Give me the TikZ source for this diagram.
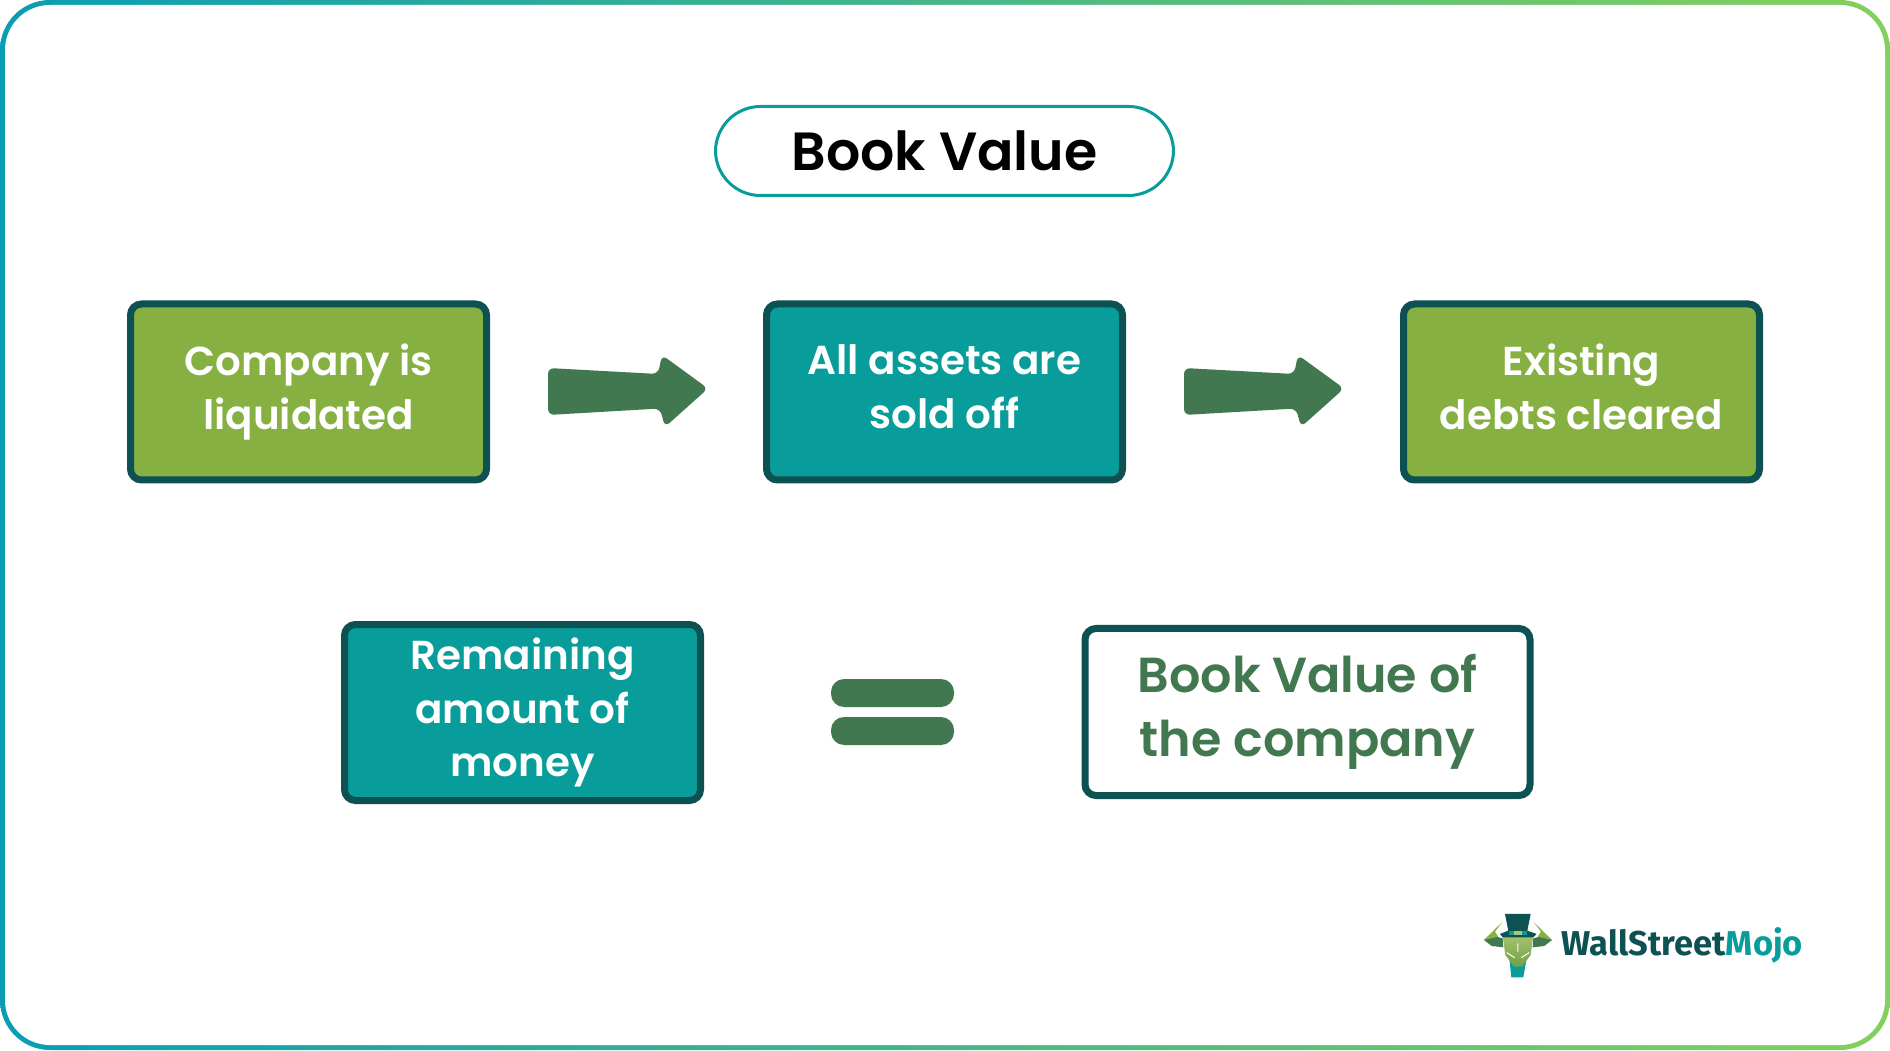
\documentclass[tikz,border=0pt]{standalone}
\usepackage{fontspec}
\setmainfont{Poppins}[BoldFont={Poppins SemiBold}]
\newfontfamily\logofont{Fira Sans}[BoldFont={Fira Sans Bold}]
\usetikzlibrary{arrows.meta,calc,positioning}
\definecolor{Edge}{HTML}{0E5153}
\definecolor{Leaf}{HTML}{86B041}
\definecolor{Teal}{HTML}{089D9B}
\definecolor{Forest}{HTML}{42784F}
\definecolor{FrameA}{HTML}{0A9DB4}
\definecolor{FrameB}{HTML}{84D05C}
\tikzset{
  stepbox/.style={rounded corners=1.1mm,minimum width=3.56cm,minimum height=1.76cm,align=center,inner sep=0pt,
    line width=0.7mm,draw=Edge,text=white,font=\fontsize{11.5}{15.3}\selectfont\bfseries},
  blockarrow/.pic={
    \fill[Forest,rounded corners=0.6mm] (0.58,0.24) -- (1.68,0.18) -- (1.72,0.37) -- (2.18,0.035)
      -- (1.75,-0.35) -- (1.70,-0.165) -- (0.58,-0.23) -- cycle;
  },
}
\begin{document}
\begin{tikzpicture}[x=1cm,y=1cm]
    \useasboundingbox (0,0) rectangle (18.9,10.5);
    % frame
    \shade[left color=FrameA,right color=FrameB,rounded corners=5mm] (0,0) rectangle (18.9,10.5);
    \fill[white,rounded corners=4.5mm] (0.05,0.05) rectangle (18.85,10.45);

    \node[rounded corners=4.5mm,minimum width=4.58cm,minimum height=0.89cm,inner sep=0pt,line width=0.3mm,draw=Teal,
      text=black,font=\fontsize{15.3}{19}\selectfont\bfseries] (title) at (9.445,8.99) {Book Value};

    \node[stepbox,fill=Leaf] (liquidated) at (3.085,6.58) {Company is\\liquidated};
    \node[stepbox,fill=Teal] (assets) at (9.445,6.58) {All assets are\\sold off\vphantom{y}};
    \node[stepbox,fill=Leaf] (debts) at (15.815,6.58) {Existing\\debts cleared\vphantom{y}};
    \pic at (liquidated.east) {blockarrow};
    \pic at (assets.east) {blockarrow};

    \node[stepbox,fill=Teal] (remaining) at (5.225,3.375) {Remaining\\amount of\\money};
    \node[rounded corners=1.1mm,minimum width=4.45cm,minimum height=1.67cm,align=center,inner sep=0pt,line width=0.7mm,
      draw=Edge,fill=white,text=Forest,font=\fontsize{14}{18.1}\selectfont\bfseries] (company) at (13.075,3.38) {Book Value of\\the company};

    % equals sign
    \fill[Forest,rounded corners=1.3mm] (8.31,3.43) rectangle (9.54,3.71);
    \fill[Forest,rounded corners=1.3mm] (8.31,3.05) rectangle (9.54,3.33);

    % logo
    \begin{scope}[shift={(14.4,1.6)},x=0.03333mm,y=-0.03333mm]
      \fill[Forest] (132,150) -- (150,135) -- (188,145) -- (190,172) -- (155,168) -- cycle;
      \fill[Forest] (336,150) -- (318,135) -- (280,145) -- (278,172) -- (313,168) -- cycle;
      \fill[Leaf] (132,150) -- (188,95) -- (165,125) -- (175,140) -- cycle;
      \fill[Leaf] (336,150) -- (280,95) -- (303,125) -- (293,140) -- cycle;
      \fill[Teal] (208,205) -- (260,205) -- (250,262) -- (214,262) -- cycle;
      \shade[top color=Leaf!75!white,bottom color=Leaf!70!Forest] (188,135) -- (280,135) -- (272,195) -- (246,230) -- (222,230) -- (196,195) -- cycle;
      \draw[white,line width=0.1mm] (200,188) -- (224,203) (268,188) -- (244,203) (234,160) -- (234,185);
      \fill[Edge] (195,72) -- (272,72) -- (262,122) -- (290,132) -- (280,142) -- (188,142) -- (180,132) -- (205,122) -- cycle;
      \fill[Teal] (207,122) rectangle (262,135);
      \fill[Leaf!70!white] (222,122) rectangle (246,136);
    \end{scope}
    \node[anchor=west,inner sep=0pt,font=\logofont\fontsize{9.8}{11}\selectfont\bfseries] (wsm) at (15.61,1.05) {\textcolor{Edge}{WallStreet}\textcolor{Teal}{Mojo}};
  \end{tikzpicture}
\end{document}
